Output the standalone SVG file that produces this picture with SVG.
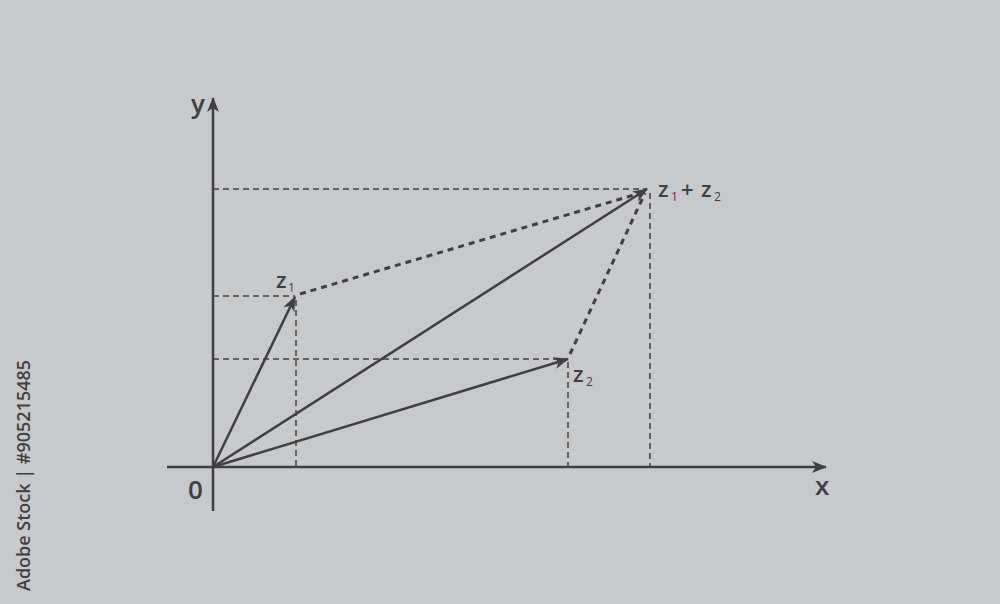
<svg xmlns="http://www.w3.org/2000/svg" width="1000" height="604" viewBox="0 0 1000 604">
<style>
.ax{stroke:#404042;stroke-width:2.5;fill:none}
.vec{stroke:#404042;stroke-width:2.5;fill:none}
.dash{stroke:#404042;stroke-width:1.5;stroke-dasharray:6 4;fill:none}
.dot{stroke:#404042;stroke-width:3;stroke-dasharray:6 5;fill:none}
.lbl{font-family:"Open Sans","Liberation Sans",sans-serif;fill:#404042;font-weight:600}
.sub{font-family:"Open Sans","Liberation Sans",sans-serif;fill:#404042;font-size:12px}
</style>
<defs>
<marker id="ah" markerWidth="16" markerHeight="12" refX="14" refY="6" orient="auto" markerUnits="userSpaceOnUse">
<path d="M0,0 L15,6 L0,12 L4,6 Z" fill="#404042"/>
</marker>
</defs>
<rect width="1000" height="604" fill="#c8c9cb"/>
<g id="guides">
<path class="dash" d="M213,189 H647 M213,296 H295 M213,359 H568 M296,300 V467 M568,362 V467 M650,193 V467"/>
</g>
<g id="axes">
<line class="ax" x1="213" y1="511" x2="213" y2="98" marker-end="url(#ah)"/>
<line class="ax" x1="167" y1="467" x2="826" y2="467" marker-end="url(#ah)"/>
</g>
<g id="connectors">
<line class="vec" x1="213" y1="467" x2="295" y2="297" marker-end="url(#ah)"/>
<line class="vec" x1="213" y1="467" x2="568" y2="359" marker-end="url(#ah)"/>
<line class="vec" x1="213" y1="467" x2="647" y2="189" marker-end="url(#ah)"/>
<path class="dot" d="M300,294 L644,192"/>
<path class="dot" d="M570,354 L645,193"/>
</g>
<g id="labels">
<text class="lbl" x="191" y="113" font-size="26">y</text>
<text class="lbl" x="815" y="495" font-size="26">x</text>
<text class="lbl" x="188" y="499" font-size="26">0</text>
<text class="lbl" x="276" y="288" font-size="22">z</text><text class="sub" x="288" y="292">1</text>
<text class="lbl" x="573" y="382" font-size="22">z</text><text class="sub" x="586" y="386">2</text>
<text class="lbl" x="658" y="197" font-size="22">z</text><text class="sub" x="671" y="201">1</text>
<text class="lbl" x="681" y="197" font-size="22">+</text>
<text class="lbl" x="701" y="197" font-size="22">z</text><text class="sub" x="714" y="201">2</text>
</g>
<text x="30" y="591" transform="rotate(-90 30 591)" font-family="Open Sans,Liberation Sans,sans-serif" font-size="18" font-weight="600" fill="#404042">Adobe Stock | #905215485</text>
</svg>
